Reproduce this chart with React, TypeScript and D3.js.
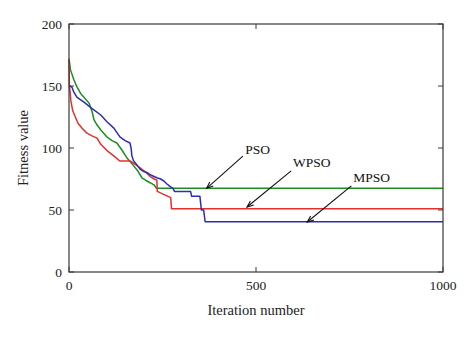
import React from "react";
import * as d3 from "d3";

const psoIter = [0, 4, 13, 21, 31, 40, 54, 62, 67, 75, 85, 101, 115, 128, 140, 155, 172, 185, 195, 205, 217, 228, 234, 1000];
const psoVal = [172, 163, 155, 149.5, 144, 141, 136, 129, 122.6, 118.5, 114.5, 109, 106, 104, 99, 92, 86, 81, 76, 74, 72, 70, 67.5, 67.5];

const wpsoIter = [0, 1, 3, 5, 10, 17, 24, 35, 48, 60, 75, 85, 95, 105, 118, 136, 163, 172, 190, 203, 217, 228, 235, 236, 250, 265, 272, 274, 1000];
const wpsoVal = [171, 150, 145, 138, 130, 125, 120, 116, 112, 110, 108, 103, 100, 97, 94, 89.5, 89.5, 88, 84, 81, 77, 75, 74, 65, 63, 61, 60, 51, 51];

const mpsoIter = [0, 5, 8, 13, 21, 40, 61, 85, 102, 120, 136, 150, 163, 166, 168, 172, 180, 190, 200, 210, 220, 235, 245, 255, 262, 270, 278, 282, 325, 328, 350, 354, 360, 364, 1000];
const mpsoVal = [150, 149.5, 149, 145, 141, 137, 132, 126.6, 121, 116, 109, 106, 104, 100, 94, 90, 87, 83, 81, 80, 78, 76, 75, 73, 71, 69, 67.5, 65, 65, 61, 61, 50, 50, 40.5, 40.5];

const seriesNames = ["PSO", "WPSO", "MPSO"];
const seriesColors = ["#1e8c22", "#e3302c", "#2d2db3"];

const xTicks = [0, 500, 1000];
const yTicks = [0, 50, 100, 150, 200];

// annotations: label, text anchor (data), arrow start (data), arrow tip (data)
const annLabels = ["PSO", "WPSO", "MPSO"];
const annText = [[471, 95], [599, 84.7], [760, 72.6]];
const annStart = [[465, 93.5], [594, 81.5], [755, 69.4]];
const annTip = [[368, 67.5], [476, 52.4], [637, 40.3]];

const W = 474;
const H = 337;
const M = { left: 69, right: 31, top: 24, bottom: 65 };

export default function App() {
  const x = d3.scaleLinear().domain([0, 1000]).range([M.left, W - M.right]);
  const y = d3.scaleLinear().domain([0, 200]).range([H - M.bottom, M.top]);
  const line = d3
    .line<[number, number]>()
    .x((d) => x(d[0]))
    .y((d) => y(d[1]));

  const series = [
    psoIter.map((it, i) => [it, psoVal[i]] as [number, number]),
    wpsoIter.map((it, i) => [it, wpsoVal[i]] as [number, number]),
    mpsoIter.map((it, i) => [it, mpsoVal[i]] as [number, number]),
  ];

  const font = "'Liberation Serif', 'Times New Roman', serif";
  const axisColor = "#3a3a3a";
  const x0 = M.left;
  const x1 = W - M.right;
  const y0 = H - M.bottom;
  const y1 = M.top;
  const tk = 5;

  return (
    <svg
      width={W}
      height={H}
      style={{ position: "absolute", left: 0, top: 0, background: "#fff" }}
      fontFamily={font}
    >
      {/* series */}
      {series.map((s, i) => (
        <path
          key={seriesNames[i]}
          d={line(s) || ""}
          fill="none"
          stroke={seriesColors[i]}
          strokeWidth={1.5}
          strokeLinejoin="round"
        />
      ))}
      {/* frame */}
      <rect x={x0} y={y1} width={x1 - x0} height={y0 - y1} fill="none" stroke={axisColor} strokeWidth={1.2} />
      {/* ticks */}
      {yTicks.map((t) => (
        <g key={"y" + t}>
          <line x1={x0} x2={x0 + tk} y1={y(t)} y2={y(t)} stroke={axisColor} strokeWidth={1} />
          <line x1={x1} x2={x1 - tk} y1={y(t)} y2={y(t)} stroke={axisColor} strokeWidth={1} />
          <text x={x0 - 7} y={y(t)} dy="0.35em" textAnchor="end" fontSize={13.5} fill="#222">
            {t}
          </text>
        </g>
      ))}
      {xTicks.map((t) => (
        <g key={"x" + t}>
          <line x1={x(t)} x2={x(t)} y1={y0} y2={y0 - tk} stroke={axisColor} strokeWidth={1} />
          <line x1={x(t)} x2={x(t)} y1={y1} y2={y1 + tk} stroke={axisColor} strokeWidth={1} />
          <text x={x(t)} y={y0 + 18} textAnchor="middle" fontSize={13.5} fill="#222">
            {t}
          </text>
        </g>
      ))}
      {/* axis titles */}
      <text x={(x0 + x1) / 2} y={y0 + 43} textAnchor="middle" fontSize={14.5} fill="#222">
        Iteration number
      </text>
      <text
        transform={`translate(${28},${(y0 + y1) / 2}) rotate(-90)`}
        textAnchor="middle"
        fontSize={14.5}
        fill="#222"
      >
        Fitness value
      </text>
      {/* annotations */}
      {annLabels.map((lab, i) => {
        const sx = x(annStart[i][0]);
        const sy = y(annStart[i][1]);
        const tx = x(annTip[i][0]);
        const ty = y(annTip[i][1]);
        const ang = Math.atan2(sy - ty, sx - tx);
        const hl = 7;
        const ha = 0.38;
        const p1 = [tx + hl * Math.cos(ang + ha), ty + hl * Math.sin(ang + ha)];
        const p2 = [tx + hl * Math.cos(ang - ha), ty + hl * Math.sin(ang - ha)];
        return (
          <g key={lab}>
            <line x1={sx} y1={sy} x2={tx} y2={ty} stroke="#111" strokeWidth={1.1} />
            <polyline
              points={`${p1[0]},${p1[1]} ${tx},${ty} ${p2[0]},${p2[1]}`}
              fill="none"
              stroke="#111"
              strokeWidth={1.1}
            />
            <text x={x(annText[i][0])} y={y(annText[i][1])} fontSize={13.5} fill="#111">
              {lab}
            </text>
          </g>
        );
      })}
    </svg>
  );
}
